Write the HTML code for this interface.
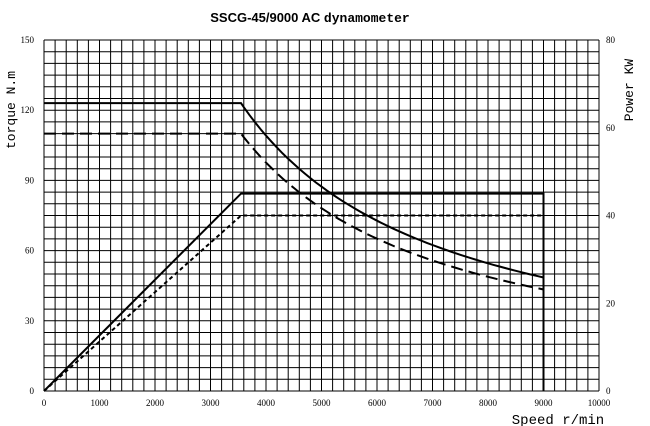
<!DOCTYPE html>
<html><head><meta charset="utf-8"><style>
html,body{margin:0;padding:0;background:#fff;width:650px;height:426px;overflow:hidden}
text{font-family:"Liberation Serif",serif;fill:#000}
</style></head><body>
<svg id="s" width="650" height="426" xmlns="http://www.w3.org/2000/svg">
<text x="310" y="22" text-anchor="middle" font-weight="bold" font-size="13" style="font-family:'Liberation Sans',sans-serif">SSCG-45/9000 AC <tspan style="font-family:'Liberation Mono',monospace">dynamometer</tspan></text>
<g id="grid" stroke="#000" stroke-width="1"></g>
<g id="curves" fill="none" stroke="#000"></g>
<g id="labels" font-size="9"></g>
<text x="15" y="110" font-size="13" transform="rotate(-90 15 110)" text-anchor="middle" style="font-family:'Liberation Mono',monospace">torque N.m</text>
<text x="633" y="90" font-size="13" transform="rotate(-90 633 90)" text-anchor="middle" style="font-family:'Liberation Mono',monospace">Power KW</text>
<text x="558" y="424" font-size="14" text-anchor="middle" style="font-family:'Liberation Mono',monospace">Speed r/min</text>
</svg>
<script>
var L=44,R=599,T=40,B=391;
function X(s){return L+s*(R-L)/10000}
function Y(t){return B-t*(B-T)/150}
function YP(p){return B-p*(B-T)/80}
var g='';
for(var i=0;i<=50;i++){var x=X(i*200).toFixed(1);g+='<line x1="'+x+'" y1="'+T+'" x2="'+x+'" y2="'+B+'"/>';}
for(var j=0;j<=30;j++){var y=Y(j*5).toFixed(1);g+='<line x1="'+L+'" y1="'+y+'" x2="'+R+'" y2="'+y+'"/>';}
document.getElementById('grid').innerHTML=g;
var lb='';
for(var i=0;i<=10;i++){lb+='<text x="'+X(i*1000)+'" y="406" text-anchor="middle">'+(i*1000)+'</text>';}
for(var j=0;j<=5;j++){lb+='<text x="34" y="'+(Y(j*30)+3)+'" text-anchor="end">'+(j*30)+'</text>';}
for(var j=0;j<=4;j++){lb+='<text x="606" y="'+(YP(j*20)+3)+'">'+(j*20)+'</text>';}
document.getElementById('labels').innerHTML=lb;
function tq(t0){var p='M'+X(0)+','+Y(t0)+' L'+X(3550)+','+Y(t0);for(var s=3600;s<=9000;s+=100){p+=' L'+X(s).toFixed(1)+','+Y(t0*3550/s).toFixed(1);}return p;}
var c='';
c+='<path d="'+tq(123)+'" stroke-width="2"/>';
c+='<path d="'+tq(110)+'" stroke-width="2" stroke-dasharray="12,6"/>';
c+='<path d="M'+X(0)+','+YP(0)+' L'+X(3550)+','+YP(45)+' L'+X(9000)+','+YP(45)+' L'+X(9000)+','+YP(0)+'" stroke-width="2"/>';
c+='<path d="M'+X(0)+','+YP(0)+' L'+X(3550)+','+YP(40)+' L'+X(9000)+','+YP(40)+'" stroke-width="2" stroke-dasharray="4,3"/>';
document.getElementById('curves').innerHTML=c;
</script>
</body></html>
